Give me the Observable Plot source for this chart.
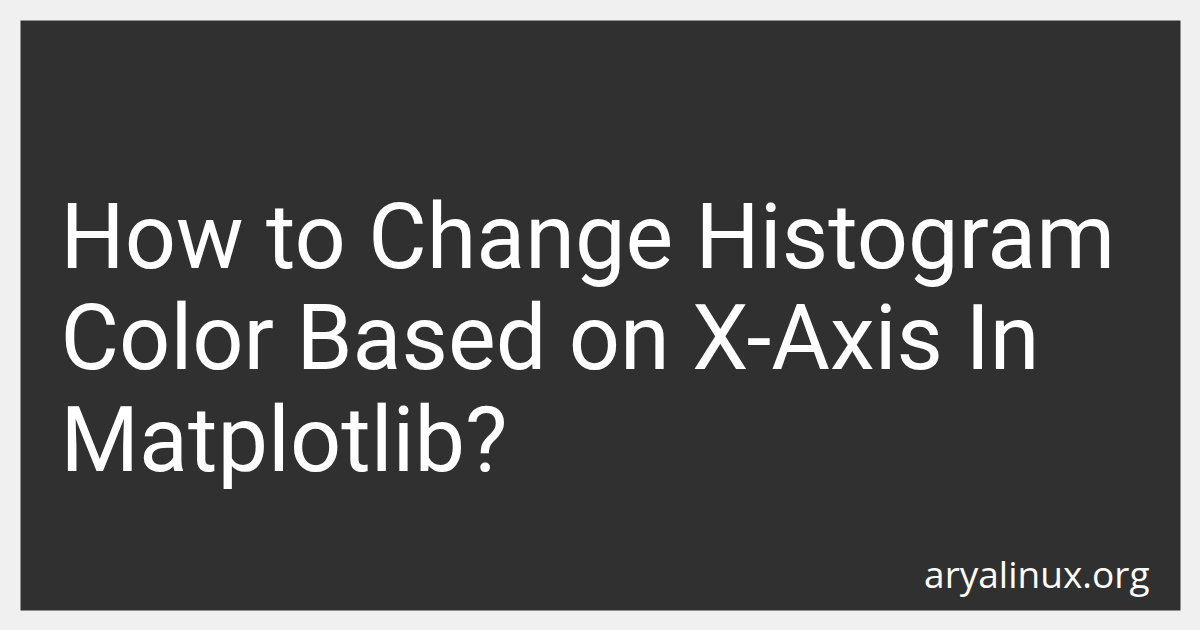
<!DOCTYPE html>
<html>
<head>
<meta charset="utf-8">
<script src="https://cdn.jsdelivr.net/npm/d3@7"></script>
<script src="https://cdn.jsdelivr.net/npm/@observablehq/plot@0.6"></script>
<style>
  html, body { margin: 0; padding: 0; background: #f0f0f0; }
  #chart svg { display: block; }
</style>
</head>
<body>
<div id="chart"></div>
<script>
const titleLines = ["How to Change Histogram", "Color Based on X-Axis In", "Matplotlib?"];
const siteLabel = ["aryalinux.org"];

const chart = Plot.plot({
  width: 1200,
  height: 630,
  margin: 20,
  style: { background: "#f0f0f0", fontFamily: "Roboto, sans-serif" },
  marks: [
    Plot.frame({ fill: "#303030", stroke: null }),
    Plot.text([titleLines.join("\n")], {
      text: d => d,
      frameAnchor: "top-left",
      lineAnchor: "top",
      textAnchor: "start",
      dx: 40,
      dy: 175,
      fontSize: 90,
      lineHeight: 101.5 / 90,
      fill: "white",
      fontFamily: "Roboto"
    }),
    Plot.text(siteLabel, {
      text: d => d,
      frameAnchor: "bottom-right",
      lineAnchor: "bottom",
      textAnchor: "end",
      dx: -31,
      dy: -23,
      fontSize: 37,
      fill: "white",
      fontFamily: "Open Sans"
    })
  ]
});
document.getElementById("chart").appendChild(chart);
</script>
</body>
</html>
